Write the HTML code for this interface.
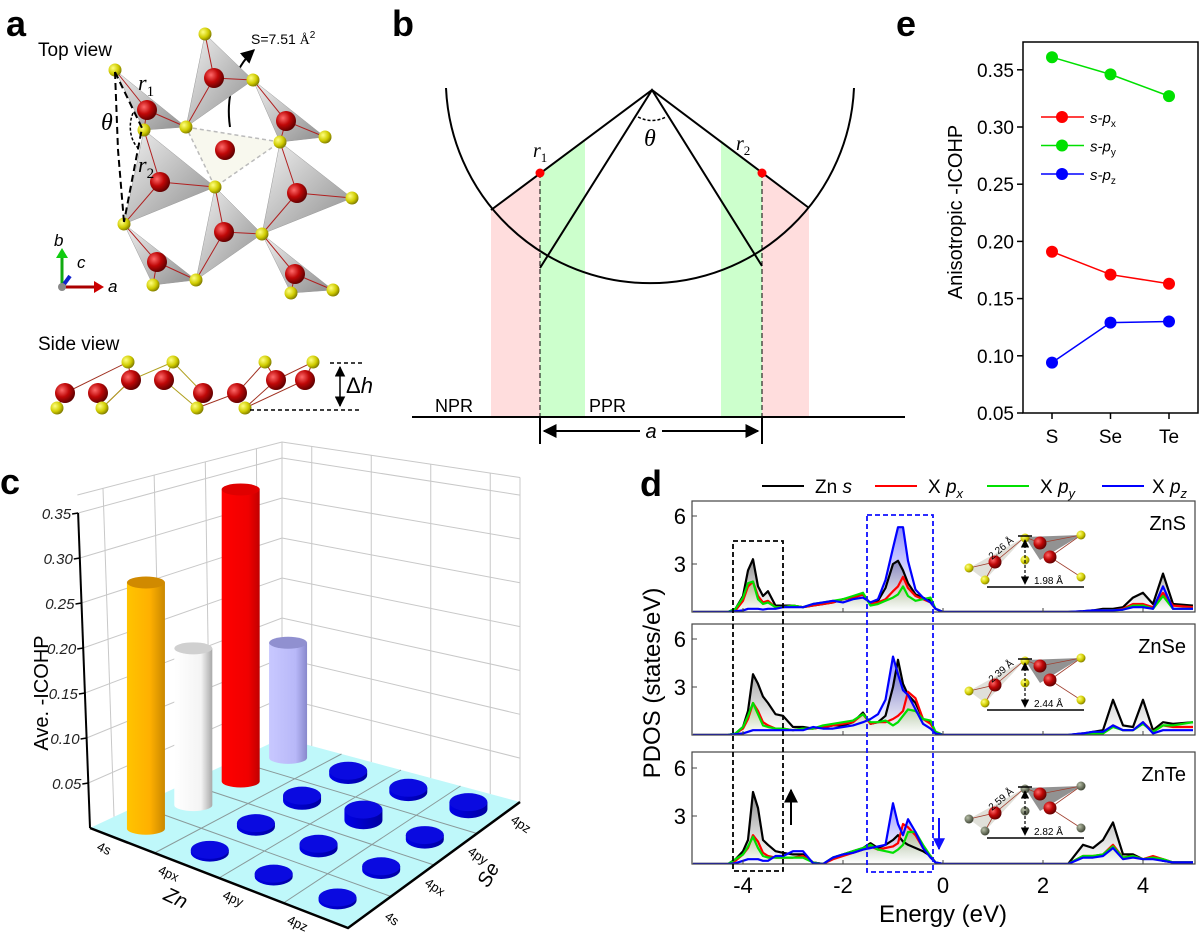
<!DOCTYPE html>
<html><head><meta charset="utf-8">
<style>
html,body{margin:0;padding:0;background:#fff;}
svg{display:block;font-family:"Liberation Sans",sans-serif;}
</style></head>
<body>
<svg id="fig" width="1200" height="933" viewBox="0 0 1200 933" xmlns="http://www.w3.org/2000/svg">
<defs>
<radialGradient id="rg" cx="0.35" cy="0.35" r="0.7"><stop offset="0" stop-color="#ff6a6a"/><stop offset="0.5" stop-color="#c00808"/><stop offset="1" stop-color="#5a0000"/></radialGradient>
<radialGradient id="yg" cx="0.35" cy="0.35" r="0.7"><stop offset="0" stop-color="#ffff80"/><stop offset="0.6" stop-color="#d0cc00"/><stop offset="1" stop-color="#7a7600"/></radialGradient>
<radialGradient id="gg" cx="0.35" cy="0.35" r="0.7"><stop offset="0" stop-color="#b8c0a8"/><stop offset="1" stop-color="#3a4030"/></radialGradient>
<linearGradient id="tri" x1="0" y1="0" x2="1" y2="1"><stop offset="0" stop-color="#f2f2f2"/><stop offset="1" stop-color="#8c8c8c"/></linearGradient>
<linearGradient id="fillK" x1="0" y1="0" x2="0" y2="1"><stop offset="0" stop-color="#222"/><stop offset="1" stop-color="#fff" stop-opacity="0.6"/></linearGradient>
<linearGradient id="fillB" x1="0" y1="0" x2="0" y2="1"><stop offset="0" stop-color="#3030ff"/><stop offset="1" stop-color="#fff" stop-opacity="0.5"/></linearGradient>
<linearGradient id="fillG" x1="0" y1="0" x2="0" y2="1"><stop offset="0" stop-color="#20d020"/><stop offset="1" stop-color="#fff" stop-opacity="0.5"/></linearGradient>
<linearGradient id="fillR" x1="0" y1="0" x2="0" y2="1"><stop offset="0" stop-color="#ff9090"/><stop offset="1" stop-color="#fff" stop-opacity="0.4"/></linearGradient>
<linearGradient id="cy0" x1="0" y1="0" x2="1" y2="0"><stop offset="0" stop-color="#ffc400"/><stop offset="0.6" stop-color="#ffb000"/><stop offset="1" stop-color="#c98800"/></linearGradient>
<linearGradient id="cy1" x1="0" y1="0" x2="1" y2="0"><stop offset="0" stop-color="#ffffff"/><stop offset="0.7" stop-color="#f4f4f4"/><stop offset="1" stop-color="#a8a8a8"/></linearGradient>
<linearGradient id="cy2" x1="0" y1="0" x2="1" y2="0"><stop offset="0" stop-color="#ff0000"/><stop offset="0.7" stop-color="#f00000"/><stop offset="1" stop-color="#c00000"/></linearGradient>
<linearGradient id="cy3" x1="0" y1="0" x2="1" y2="0"><stop offset="0" stop-color="#c8c8ff"/><stop offset="0.7" stop-color="#b8b8f8"/><stop offset="1" stop-color="#8888cc"/></linearGradient>
<linearGradient id="cyb" x1="0" y1="0" x2="1" y2="0"><stop offset="0" stop-color="#0000e8"/><stop offset="1" stop-color="#0000a0"/></linearGradient>
<marker id="ah" viewBox="0 0 10 10" refX="9" refY="5" markerWidth="7" markerHeight="7" orient="auto-start-reverse"><path d="M0,0 L10,5 L0,10 z" fill="#000"/></marker>
<marker id="ahb" viewBox="0 0 10 10" refX="9" refY="5" markerWidth="6" markerHeight="6" orient="auto"><path d="M0,0 L10,5 L0,10 z" fill="#1010ff"/></marker>
</defs>

<text x="6" y="36" font-size="36" font-weight="bold">a</text>
<text x="392" y="36" font-size="36" font-weight="bold">b</text>
<text x="896" y="36" font-size="36" font-weight="bold">e</text>
<text x="0" y="494" font-size="36" font-weight="bold">c</text>
<text x="640" y="496" font-size="36" font-weight="bold">d</text>

<g id="panelA">
<text x="38" y="56" font-size="19">Top view</text>
<text x="38" y="350" font-size="19">Side view</text>
<text x="251" y="44" font-size="14">S=7.51 <tspan font-family="Liberation Serif">Å</tspan><tspan dy="-6" font-size="10">2</tspan></text>
<path d="M230,127 C226,100 232,70 254,50" stroke="#000" stroke-width="2" fill="none" marker-end="url(#ah)"/>
<g id="tris"></g>
<polygon points="186,127 280,142 215,187" fill="#f8f8ee" stroke="#bbb" stroke-dasharray="4,3" stroke-width="1.5"/>
<g id="atomsTop"></g>
<path d="M115,72 L118,150 L124,222" stroke="#000" stroke-width="2" stroke-dasharray="7,4" fill="none"/>
<path d="M115,72 L142,128 L124,222" stroke="#000" stroke-width="2" stroke-dasharray="7,4" fill="none"/>
<path d="M133,113 C128,125 130,140 138,148" stroke="#000" stroke-width="1.5" stroke-dasharray="3,2" fill="none"/>
<text x="101" y="130" font-size="24" font-style="italic" font-family="Liberation Serif">θ</text>
<text x="138" y="90" font-size="22" font-style="italic" font-family="Liberation Serif">r<tspan dy="6" font-size="15" font-style="normal">1</tspan></text>
<text x="138" y="172" font-size="22" font-style="italic" font-family="Liberation Serif">r<tspan dy="6" font-size="15" font-style="normal">2</tspan></text>
<g>
<line x1="62" y1="287" x2="62" y2="256" stroke="#1a1" stroke-width="3"/><polygon points="56,258 68,258 62,248" fill="#1c1"/>
<line x1="62" y1="287" x2="96" y2="287" stroke="#a00" stroke-width="3"/><polygon points="94,281 94,293 104,287" fill="#c00"/>
<line x1="62" y1="287" x2="70" y2="276" stroke="#12c" stroke-width="4"/>
<circle cx="62" cy="287" r="4" fill="#888"/>
<text x="54" y="246" font-size="17" font-style="italic">b</text>
<text x="77" y="268" font-size="17" font-style="italic">c</text>
<text x="108" y="292" font-size="17" font-style="italic">a</text>
</g>
<g id="atomsSide"></g>
<line x1="330" y1="363" x2="362" y2="363" stroke="#000" stroke-width="1.5" stroke-dasharray="4,3"/>
<line x1="250" y1="410" x2="362" y2="410" stroke="#000" stroke-width="1.5" stroke-dasharray="4,3"/>
<line x1="340" y1="367" x2="340" y2="406" stroke="#000" stroke-width="1.5" marker-start="url(#ah)" marker-end="url(#ah)"/>
<text x="346" y="393" font-size="22">Δ<tspan font-style="italic">h</tspan></text>
</g>

<g id="panelB">
<polygon points="491,210 540,173 540,417 491,417" fill="#fdd"/>
<polygon points="809,210 762,173 762,417 809,417" fill="#fdd"/>
<polygon points="540,173 585,139 585,417 540,417" fill="#cfc"/>
<polygon points="762,173 721,140 721,417 762,417" fill="#cfc"/>
<path d="M446,88 A204.2,204.2 0 0 0 854,88" stroke="#000" stroke-width="2" fill="none"/>
<polyline points="491,210 652,90 809,208" stroke="#000" stroke-width="2" fill="none"/>
<polyline points="540,268 652,90 762,266" stroke="#000" stroke-width="2" fill="none"/>
<path d="M638,117 Q652,124 666,117" stroke="#000" stroke-width="1.5" stroke-dasharray="3,2" fill="none"/>
<line x1="540" y1="173" x2="540" y2="417" stroke="#000" stroke-width="1" stroke-dasharray="5,3"/>
<line x1="762" y1="173" x2="762" y2="417" stroke="#000" stroke-width="1" stroke-dasharray="5,3"/>
<circle cx="540" cy="173" r="4.5" fill="#f00"/>
<circle cx="762" cy="173" r="4.5" fill="#f00"/>
<text x="644" y="146" font-size="24" font-style="italic" font-family="Liberation Serif">θ</text>
<text x="533" y="157" font-size="20" font-style="italic" font-family="Liberation Serif">r<tspan dy="5" font-size="13" font-style="normal">1</tspan></text>
<text x="736" y="150" font-size="20" font-style="italic" font-family="Liberation Serif">r<tspan dy="5" font-size="13" font-style="normal">2</tspan></text>
<line x1="412" y1="417" x2="905" y2="417" stroke="#000" stroke-width="2"/>
<text x="435" y="412" font-size="18">NPR</text>
<text x="589" y="412" font-size="18">PPR</text>
<line x1="540" y1="417" x2="540" y2="444" stroke="#000" stroke-width="2"/>
<line x1="762" y1="417" x2="762" y2="444" stroke="#000" stroke-width="2"/>
<line x1="544" y1="431" x2="640" y2="431" stroke="#000" stroke-width="2" marker-start="url(#ah)"/>
<line x1="662" y1="431" x2="758" y2="431" stroke="#000" stroke-width="2" marker-end="url(#ah)"/>
<text x="651" y="438" font-size="20" font-style="italic" text-anchor="middle">a</text>
</g>

<g id="panelE"></g>
<g id="panelC"></g>
<g id="panelD"></g>
</svg>

<script>
const NS="http://www.w3.org/2000/svg";
function mk(parent,tag,attrs,text){const e=document.createElementNS(NS,tag);for(const k in attrs)e.setAttribute(k,attrs[k]);if(text!==undefined)e.textContent=text;parent.appendChild(e);return e;}

const yAtoms=[[205,34],[115,70],[144,130],[186,127],[253,80],[280,142],[325,137],[215,187],[352,198],[124,224],[262,234],[153,285],[196,280],[291,293],[333,290]];
const rAtoms=[[214,78],[147,110],[286,121],[225,150],[160,182],[297,193],[224,232],[157,262],[295,274]];
const triIdx=[[0,4,3,0],[1,3,2,1],[4,6,5,2],[2,7,9,4],[5,8,10,5],[7,10,12,6],[9,11,12,7],[10,13,14,8]];
const tg=document.getElementById('tris');
const at=document.getElementById('atomsTop');
triIdx.forEach(t=>{
  const p=[yAtoms[t[0]],yAtoms[t[1]],yAtoms[t[2]]];
  const e=mk(tg,'polygon',{points:p.map(q=>q.join(',')).join(' '),fill:'url(#tri)',stroke:'#999','stroke-width':0.5});
  
  
  const r=rAtoms[t[3]];
  p.forEach(q=>{mk(tg,'line',{x1:r[0],y1:r[1],x2:q[0],y2:q[1],stroke:'#b02020','stroke-width':1});});
});
rAtoms.forEach(r=>{const e=mk(at,'circle',{cx:r[0],cy:r[1],r:10,fill:'url(#rg)'});});
yAtoms.forEach(y=>{const e=mk(at,'circle',{cx:y[0],cy:y[1],r:6.5,fill:'url(#yg)'});});
const sideR=[[65,393],[98,393],[131,380],[164,380],[203,393],[237,393],[276,380],[305,380]];
const sideY=[[57,408],[102,408],[128,362],[173,362],[197,408],[245,408],[265,362],[313,362]];
const as=document.getElementById('atomsSide');
mk(as,'polyline',{points:[sideY[0],sideR[0],sideY[2],sideR[2],sideY[1],sideR[1]].map(q=>q.join(',')).join(' '),fill:'none',stroke:'#a03020','stroke-width':1});
mk(as,'polyline',{points:[sideY[1],sideR[2],sideY[3],sideR[4],sideY[4],sideR[3],sideY[3]].map(q=>q.join(',')).join(' '),fill:'none',stroke:'#b0a020','stroke-width':1});
mk(as,'polyline',{points:[sideY[4],sideR[5],sideY[6],sideR[6],sideY[5],sideR[7],sideY[7],sideR[6]].map(q=>q.join(',')).join(' '),fill:'none',stroke:'#a03020','stroke-width':1});
sideR.forEach(r=>{const e=mk(as,'circle',{cx:r[0],cy:r[1],r:10,fill:'url(#rg)'});});
sideY.forEach(y=>{const e=mk(as,'circle',{cx:y[0],cy:y[1],r:6.5,fill:'url(#yg)'});});

/* ---------- Panel E ---------- */
const eCategories=['S','Se','Te'];
const eSpx=[0.191,0.171,0.163];
const eSpy=[0.361,0.346,0.327];
const eSpz=[0.094,0.129,0.130];
const eTicks=[0.05,0.10,0.15,0.20,0.25,0.30,0.35];
(function(){
  const g=document.getElementById('panelE');
  const L=1023,R=1198,T=42,B=413;
  const yv=v=>413-(v-0.05)/0.05*57.2;
  const xc=i=>1052+i*58.5;
  const box=mk(g,'rect',{x:L,y:T,width:R-L,height:B-T,fill:'none',stroke:'#000','stroke-width':1.5});
  
  
  eTicks.forEach(t=>{
    mk(g,'line',{x1:L-6,y1:yv(t),x2:L,y2:yv(t),stroke:'#000','stroke-width':1.5});
    const tx=mk(g,'text',{x:L-9,y:yv(t)+7,'font-size':19,'text-anchor':'end'},t.toFixed(2));
    
    
  });
  eCategories.forEach((c,i)=>{
    mk(g,'line',{x1:xc(i),y1:B,x2:xc(i),y2:B+6,stroke:'#000','stroke-width':1.5});
    const tx=mk(g,'text',{x:xc(i),y:B+30,'font-size':19,'text-anchor':'middle'},c);
    
    
  });
  const yt=mk(g,'text',{x:0,y:0,'font-size':20,'text-anchor':'middle',transform:'translate(962,212) rotate(-90)'},'Anisotropic -ICOHP');
  
  
  const series=[[eSpx,'#ff0000','x'],[eSpy,'#00e000','y'],[eSpz,'#0000ff','z']];
  series.forEach((s,k)=>{
    const pl=mk(g,'polyline',{points:s[0].map((v,i)=>xc(i)+','+yv(v)).join(' '),fill:'none',stroke:s[1],'stroke-width':1.5});
    
    
    s[0].forEach((v,i)=>{
      const c=mk(g,'circle',{cx:xc(i),cy:yv(v),r:6,fill:s[1]});
      
      
    });
    const ly=117+k*28.5;
    const le=mk(g,'g',{});
    
    
    mk(le,'line',{x1:1041,y1:ly,x2:1084,y2:ly,stroke:s[1],'stroke-width':1.5});
    mk(le,'circle',{cx:1062,cy:ly,r:6,fill:s[1]});
    const t=mk(le,'text',{x:1090,y:ly+6,'font-size':15,'font-style':'italic'},'s-p');
    mk(t,'tspan',{dy:4,'font-size':10,'font-style':'normal'},s[2]);
  });
})();

/* ---------- Panel C (3D bars) ---------- */
const cZnLabels=['4s','4px','4py','4pz'];
const cSeLabels=['4s','4px','4py','4pz'];
const cZTicks=[0.05,0.10,0.15,0.20,0.25,0.30,0.35];
const cRow4s=[0.275,0.18,0.345,0.14];
const cRow4px=[0.003,0.004,0.006,0.005];
const cRow4py=[0.003,0.005,0.012,0.005];
const cRow4pz=[0.003,0.004,0.005,0.008];
(function(){
  const g=document.getElementById('panelC');
  const A=[90,828],B=[348,928],C=[520,802],D=[282,738];
  const K={A:900,B:960,C:877,D:800}, TL={A:-34,B:-30,C:0,D:0};
  function bil(a,b,c,d,u,v){return a*(1-u)*(1-v)+b*u*(1-v)+c*u*v+d*(1-u)*v;}
  function proj(u,v,z){
    const x=bil(A[0],B[0],C[0],D[0],u,v), y=bil(A[1],B[1],C[1],D[1],u,v);
    const k=bil(K.A,K.B,K.C,K.D,u,v), t=bil(TL.A,TL.B,TL.C,TL.D,u,v);
    return [x+t*z,y-k*z];
  }
  const P=p=>p[0].toFixed(1)+','+p[1].toFixed(1);
  const zTop=0.37;
  const lw=mk(g,'polygon',{points:[proj(0,0,0),proj(0,1,0),proj(0,1,zTop),proj(0,0,zTop)].map(P).join(' '),fill:'#fff',stroke:'none'});
  
  const gl=mk(g,'g',{stroke:'#c8c8c8','stroke-width':1,fill:'none'});
  
  
  cZTicks.concat([zTop]).forEach(z=>{
    mk(gl,'polyline',{points:[proj(0,0,z),proj(0,1,z),proj(1,1,z)].map(P).join(' ')});
  });
  [0.125,0.375,0.625,0.875,1].forEach(s=>{
    mk(gl,'line',{x1:proj(0,s,0)[0],y1:proj(0,s,0)[1],x2:proj(0,s,zTop)[0],y2:proj(0,s,zTop)[1]});
    mk(gl,'line',{x1:proj(s,1,0)[0],y1:proj(s,1,0)[1],x2:proj(s,1,zTop)[0],y2:proj(s,1,zTop)[1]});
  });
  const fl=mk(g,'polygon',{points:[A,B,C,D].map(P).join(' '),fill:'#bff8fa',stroke:'none'});
  
  const fg=mk(g,'g',{stroke:'#8a9a9a','stroke-width':1});
  [0.25,0.5,0.75].forEach(s=>{
    mk(fg,'line',{x1:proj(s,0,0)[0],y1:proj(s,0,0)[1],x2:proj(s,1,0)[0],y2:proj(s,1,0)[1]});
    mk(fg,'line',{x1:proj(0,s,0)[0],y1:proj(0,s,0)[1],x2:proj(1,s,0)[0],y2:proj(1,s,0)[1]});
  });
  mk(g,'polyline',{points:[A,B,C].map(P).join(' '),fill:'none',stroke:'#000','stroke-width':2.5});
  mk(g,'line',{x1:proj(0,0,0)[0],y1:proj(0,0,0)[1],x2:proj(0,0,0.35)[0],y2:proj(0,0,0.35)[1],stroke:'#000','stroke-width':2});
  cZTicks.forEach(z=>{
    const p=proj(0,0,z);
    mk(g,'line',{x1:p[0],y1:p[1],x2:p[0]-6,y2:p[1]+1,stroke:'#000','stroke-width':1.5});
    const t=mk(g,'text',{x:p[0]-7,y:p[1]+6,'font-size':15,'font-style':'italic','text-anchor':'end',fill:'#222'},z.toFixed(2));
    
    
  });
  const zt=mk(g,'text',{'font-size':20,'text-anchor':'middle',transform:'translate(48,693) rotate(-90)'},'Ave. -ICOHP');
  
  cZnLabels.forEach((l,i)=>{
    const p=proj((i+0.5)/4,0,0);
    const t=mk(g,'text',{'font-size':13,'text-anchor':'middle',transform:`translate(${p[0]-20},${p[1]+12}) rotate(25)`},l);
    
  });
  cSeLabels.forEach((l,j)=>{
    const p=proj(1,(j+0.5)/4,0);
    const t=mk(g,'text',{'font-size':13,'text-anchor':'middle',transform:`translate(${p[0]+20},${p[1]+10}) rotate(35)`},l);
    
  });
  const zn=mk(g,'text',{'font-size':20,'font-style':'italic','text-anchor':'middle',transform:'translate(173,904) rotate(25)'},'Zn');
  
  const se=mk(g,'text',{'font-size':20,'font-style':'italic','text-anchor':'middle',transform:'translate(494,878) rotate(-60)'},'Se');
  
  const rows=[cRow4s,cRow4px,cRow4py,cRow4pz];
  const grads=['cy0','cy1','cy2','cy3'], tops=['#d08a00','#d0d0d0','#e00000','#9090d0'];
  const items=[];
  rows.forEach((row,i)=>row.forEach((v,j)=>items.push([i,j,v])));
  items.sort((a,b)=>((a[0]-a[1])-(b[0]-b[1]))||(a[1]-b[1]));
  items.forEach(([i,j,v])=>{
    const u=(i+0.5)/4, w=(j+0.5)/4;
    const b=proj(u,w,0), t=proj(u,w,v);
    const big=i===0, rx=19, ry=big?6:9;
    const cx=b[0], yb=b[1], yt=t[1];
    const bar=mk(g,'g',{});
    
    
    mk(bar,'path',{d:`M${cx-rx},${yt} L${cx-rx},${yb} A${rx},${ry} 0 0 0 ${cx+rx},${yb} L${cx+rx},${yt} Z`,fill:big?`url(#${grads[j]})`:'url(#cyb)'});
    mk(bar,'ellipse',{cx:cx,cy:yt,rx:rx,ry:ry,fill:big?tops[j]:'#0a0ae0'});
  });
})();

/* ---------- Panel D (PDOS) ---------- */
const dEnergy=[-5,-4.3,-4.15,-4.0,-3.9,-3.8,-3.7,-3.6,-3.5,-3.35,-3.2,-3.0,-2.8,-2.6,-2.4,-2.2,-2.0,-1.8,-1.6,-1.45,-1.3,-1.15,-1.0,-0.9,-0.8,-0.7,-0.55,-0.4,-0.25,-0.15,0,1,2,2.5,2.8,3.0,3.2,3.4,3.6,3.8,4.0,4.2,4.4,4.6,5.0];
const dXTicks=[-4,-2,0,2,4];
const dYTicks=[3,6];
const dSystems=['ZnS','ZnSe','ZnTe'];
const znsS =[0,0,0.2,1.0,2.6,3.3,1.6,1.0,1.3,0.4, 0.4,0.4,0.3,0.4,0.5,0.6,0.8,0.9,1.1,0.5, 0.7,1.5,3.0,3.2,2.6,1.8,1.1,0.9,0.7,0.2, 0,0,0,0,0.05,0.1,0.2,0.2,0.3,0.9, 1.2,0.5,2.4,0.5,0.4];
const znsPx=[0,0,0.1,0.7,1.6,1.9,1.0,0.6,0.7,0.3, 0.3,0.4,0.3,0.4,0.5,0.6,0.8,0.9,1.1,0.5, 0.6,0.8,1.3,1.6,2.2,1.5,1.0,0.8,0.6,0.2, 0,0,0,0,0.02,0.05,0.1,0.1,0.2,0.5, 0.5,0.3,1.2,0.4,0.3];
const znsPy=[0,0,0.2,0.9,1.8,1.9,0.8,0.5,0.6,0.3, 0.3,0.4,0.3,0.5,0.6,0.7,0.8,1.0,1.2,0.4, 0.5,0.7,0.9,1.1,1.6,1.0,0.7,0.8,0.9,0.2, 0,0,0,0,0.02,0.05,0.1,0.1,0.15,0.4, 0.4,0.2,1.0,0.2,0.2];
const znsPz=[0,0,0.05,0.1,0.2,0.2,0.2,0.15,0.2,0.2, 0.3,0.3,0.3,0.5,0.6,0.7,0.6,0.8,0.9,0.6, 0.8,2.0,4.0,5.3,5.3,3.2,1.4,0.9,0.6,0.2, 0,0,0,0,0.05,0.1,0.1,0.1,0.15,0.3, 0.3,0.2,1.6,0.2,0.2];
const znseS =[0,0,0.1,0.5,1.5,3.8,3.2,2.4,2.0,1.3, 1.2,0.5,0.5,0.4,0.5,0.6,0.6,0.8,1.4,0.7, 0.8,1.2,3.0,4.7,3.2,2.5,2.0,1.0,0.8,0.2, 0,0,0,0,0.1,0.2,0.3,2.2,0.6,0.5, 2.2,0.3,0.8,0.7,0.8];
const znsePx=[0,0,0.1,0.4,1.0,2.0,1.5,0.8,0.6,0.4, 0.4,0.3,0.4,0.4,0.5,0.6,0.7,0.8,1.3,0.7, 0.8,0.8,1.0,1.2,1.5,2.7,2.3,1.0,0.7,0.2, 0,0,0,0,0.05,0.1,0.1,0.6,0.3,0.3, 0.8,0.2,0.6,0.5,0.5];
const znsePy=[0,0,0.1,0.5,1.2,2.0,1.3,0.6,0.5,0.4, 0.4,0.3,0.4,0.4,0.6,0.7,0.8,0.9,1.3,0.8, 0.8,0.9,0.6,0.8,1.2,1.6,1.5,1.0,0.9,0.2, 0,0,0,0,0.05,0.1,0.1,0.5,0.3,0.3, 0.7,0.2,0.6,0.6,0.8];
const znsePz=[0,0,0.05,0.1,0.2,0.3,0.3,0.3,0.3,0.3, 0.3,0.3,0.3,0.5,0.4,0.4,0.5,0.6,0.8,1.0, 1.3,2.2,4.9,3.8,2.8,2.5,1.6,0.7,0.4,0.1, 0,0,0,0,0.1,0.2,0.2,0.6,0.3,0.3, 0.8,0.1,0.3,0.3,0.3];
const zntS =[0,0,0.3,0.8,1.5,4.5,3.5,1.5,1.2,0.8, 0.7,0.6,0.6,0.1,0,0.4,0.6,0.8,1.0,1.3, 1.0,1.2,1.5,1.8,1.4,1.2,1.0,0.8,0.5,0.1, 0,0,0,0,1.2,1.0,1.5,2.6,0.6,0.6, 0.3,0.4,0.2,0.1,0.1];
const zntPx=[0,0,0.2,0.6,1.0,1.8,1.4,0.7,0.5,0.4, 0.4,0.4,0.5,0.1,0,0.3,0.5,0.7,0.9,1.1, 0.9,1.0,1.1,1.3,2.5,2.3,1.8,1.0,0.5,0.1, 0,0,0,0,0.5,0.5,0.6,1.2,0.4,0.5, 0.3,0.5,0.3,0.1,0.1];
const zntPy=[0,0,0.3,0.6,1.1,1.7,1.0,0.5,0.4,0.4, 0.4,0.4,0.4,0.1,0,0.4,0.6,0.8,1.0,1.2, 0.9,0.8,0.7,0.9,1.2,2.0,2.0,1.2,0.5,0.1, 0,0,0,0,0.5,0.5,0.6,1.1,0.4,0.5, 0.3,0.4,0.3,0.1,0.1];
const zntPz=[0,0,0.05,0.2,0.3,0.3,0.3,0.2,0.2,0.5, 0.5,0.8,0.8,0.05,0,0.4,0.6,0.7,0.9,1.0, 1.1,1.2,3.8,2.5,1.8,2.8,2.0,1.0,0.4,0.1, 0,0,0,0,0.4,0.4,0.5,1.0,0.3,0.4, 0.3,0.3,0.2,0.1,0.1];
const dInsetTop=['2.26 Å','2.39 Å','2.59 Å'];
const dInsetBottom=['1.98 Å','2.44 Å','2.82 Å'];
(function(){
  const g=document.getElementById('panelD');
  const L=692,R=1195;
  const tops=[501,624,752], bases=[612,735,864];
  const xE=e=>943+50*e;
  const data=[[znsS,znsPx,znsPy,znsPz],[znseS,znsePx,znsePy,znsePz],[zntS,zntPx,zntPy,zntPz]];
  const cols=['#000000','#ff0000','#00e000','#0000ff'];
  const fills=['url(#fillK)','url(#fillR)','url(#fillG)','url(#fillB)'];
  const names=['zn-s','x-px','x-py','x-pz'];
  const defs=document.querySelector('defs');
  data.forEach((sys,k)=>{
    const base=bases[k], top=tops[k];
    const yP=p=>base-16*p;
    const cp=mk(defs,'clipPath',{id:'clipD'+k});
    mk(cp,'rect',{x:L,y:top,width:R-L,height:base-top});
    const sg=mk(g,'g',{'clip-path':`url(#clipD${k})`});
    
    
    [0,3,2,1].forEach(s=>{
      const pts=dEnergy.map((e,i)=>xE(e).toFixed(1)+','+yP(sys[s][i]).toFixed(1));
      const f=mk(sg,'polygon',{points:xE(dEnergy[0])+','+base+' '+pts.join(' ')+' '+xE(dEnergy[dEnergy.length-1])+','+base,fill:fills[s],opacity:0.55});
      
      
    });
    [0,1,2,3].forEach(s=>{
      const pl=mk(sg,'polyline',{points:dEnergy.map((e,i)=>xE(e).toFixed(1)+','+yP(sys[s][i]).toFixed(1)).join(' '),fill:'none',stroke:cols[s],'stroke-width':2.2,'stroke-linejoin':'round'});
      
      
    });
    const fr=mk(g,'rect',{x:L,y:top,width:R-L,height:base-top,fill:'none',stroke:'#444','stroke-width':1.2});
    
    
    dYTicks.forEach(t=>{
      mk(g,'line',{x1:L,y1:yP(t),x2:L+5,y2:yP(t),stroke:'#444'});
      const tx=mk(g,'text',{x:L-6,y:yP(t)+8,'font-size':22,'text-anchor':'end'},String(t));
      
      
    });
    dXTicks.forEach(t=>{mk(g,'line',{x1:xE(t),y1:base,x2:xE(t),y2:base-4,stroke:'#444'});});
    const sl=mk(g,'text',{x:1186,y:top+29,'font-size':20,'text-anchor':'end'},dSystems[k]);
    
    
    const dy=top-501;
    const ins=mk(g,'g',{transform:`translate(0,${dy})`});
    
    
    const yc=k===2?'url(#gg)':'url(#yg)';
    mk(ins,'polygon',{points:'969,568 1025,537 985,580',fill:'#d8d8d0',opacity:0.8});
    mk(ins,'polygon',{points:'1025,537 1081,535 1040,560',fill:'#777',opacity:0.8});
    mk(ins,'polyline',{points:'969,568 995,562 985,580 995,562 1025,537 1040,543 1081,535 1050,557 1081,577',fill:'none',stroke:'#a04030','stroke-width':0.8});
    [[995,562],[1040,543],[1050,557]].forEach(p=>mk(ins,'circle',{cx:p[0],cy:p[1],r:6.5,fill:'url(#rg)'}));
    [[969,568],[985,580],[1081,535],[1081,577],[1025,538],[1025,560]].forEach(p=>mk(ins,'circle',{cx:p[0],cy:p[1],r:4.5,fill:yc}));
    mk(ins,'line',{x1:987,y1:587,x2:1084,y2:587,stroke:'#000','stroke-width':1.5});
    mk(ins,'line',{x1:1018,y1:536,x2:1032,y2:536,stroke:'#000','stroke-width':1.5});
    mk(ins,'line',{x1:1025,y1:540,x2:1025,y2:584,stroke:'#000','stroke-width':1.2,'stroke-dasharray':'3,2','marker-start':'url(#ah)','marker-end':'url(#ah)'});
    mk(ins,'text',{'font-size':10,transform:'translate(992,560) rotate(-40)'},dInsetTop[k]);
    mk(ins,'text',{x:1034,y:584,'font-size':10},dInsetBottom[k]);
  });
  const bx1=mk(g,'rect',{x:xE(-4.2),y:541,width:xE(-3.2)-xE(-4.2),height:330,fill:'none',stroke:'#000','stroke-width':1.8,'stroke-dasharray':'5,3'});
  
  const bx2=mk(g,'rect',{x:867,y:515,width:66,height:357,fill:'none',stroke:'#1010ff','stroke-width':1.8,'stroke-dasharray':'5,3'});
  
  const ar1=mk(g,'line',{x1:791,y1:825,x2:791,y2:790,stroke:'#000','stroke-width':2,'marker-end':'url(#ah)'});
  
  const ar2=mk(g,'line',{x1:939,y1:818,x2:939,y2:849,stroke:'#1010ff','stroke-width':2,'marker-end':'url(#ahb)'});
  
  dXTicks.forEach(t=>{
    const tx=mk(g,'text',{x:xE(t),y:893,'font-size':22,'text-anchor':'middle'},String(t));
    
    
  });
  const xt=mk(g,'text',{x:943,y:922,'font-size':24,'text-anchor':'middle'},'Energy (eV)');
  
  const yt=mk(g,'text',{'font-size':24,'text-anchor':'middle',transform:'translate(660,683) rotate(-90)'},'PDOS (states/eV)');
  
  const leg=[['Zn ','s',null,762,815],['X ','p','x',875,928],['X ','p','y',987,1040],['X ','p','z',1102,1152]];
  leg.forEach((l,s)=>{
    const le=mk(g,'g',{});
    
    
    mk(le,'line',{x1:l[3],y1:486,x2:l[3]+42,y2:486,stroke:cols[s],'stroke-width':2});
    const t=mk(le,'text',{x:l[4],y:493,'font-size':19},l[0]);
    mk(t,'tspan',{'font-style':'italic'},l[1]);
    if(l[2])mk(t,'tspan',{dy:5,'font-size':13,'font-style':'italic'},l[2]);
  });
})();
</script>
</body></html>
